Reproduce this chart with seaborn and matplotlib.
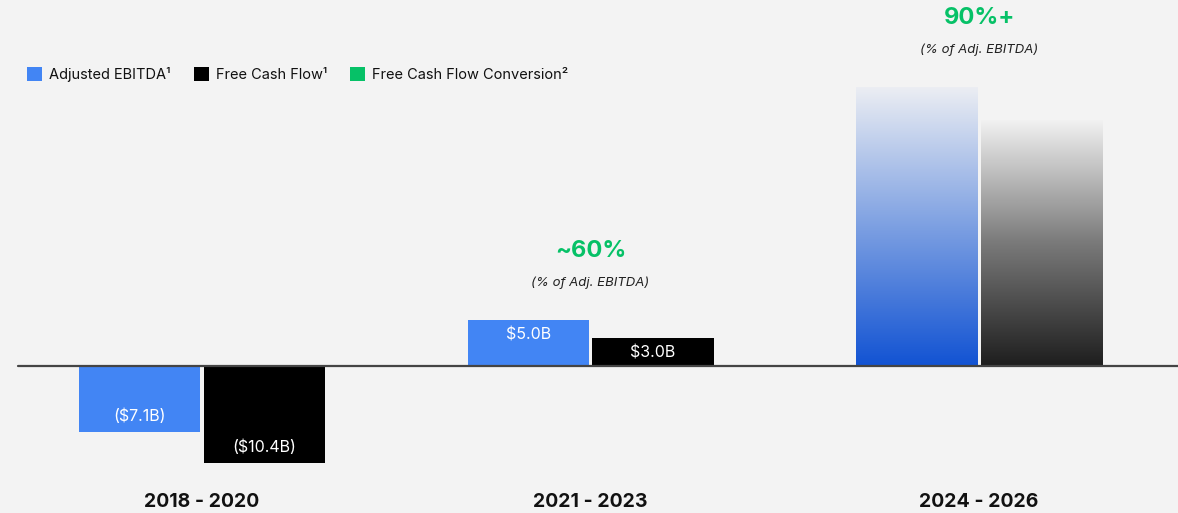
import numpy as np
import pandas as pd
import matplotlib
matplotlib.use("Agg")
import matplotlib.pyplot as plt
from matplotlib.colors import LinearSegmentedColormap
from matplotlib.patches import Patch
from matplotlib.transforms import blended_transform_factory
import seaborn as sns

# ── Data ──────────────────────────────────────
periods = ["2018 - 2020", "2021 - 2023", "2024 - 2026"]
ebitda = [-7.1, 5.0, 30.0]
fcf = [-10.4, 3.0, 26.5]
ebitda_labels = ["($7.1B)", "$5.0B", ""]
fcf_labels = ["($10.4B)", "$3.0B", ""]
conversion = ["", "~60%", "90%+"]
series = ["Adjusted EBITDA¹", "Free Cash Flow¹", "Free Cash Flow Conversion²"]

BG = "#f3f3f3"
BLUE = "#4285f4"
BLACK = "#000000"
GREEN = "#06c167"

df = pd.DataFrame({
    "period": periods * 2,
    "value": ebitda + fcf,
    "series": [series[0]] * 3 + [series[1]] * 3,
})

sns.set_theme(style="white")
plt.rcParams["font.family"] = ["Inter", "DejaVu Sans"]

fig = plt.figure(figsize=(11.78, 5.13), dpi=100, facecolor=BG)
ax = fig.add_axes([0, 0, 1, 1])
ax.set_facecolor(BG)

sns.barplot(data=df, x="period", y="value", hue="series", order=periods,
            hue_order=series[:2], palette=[BLUE, BLACK], width=0.643, gap=0.03,
            saturation=1, ax=ax, legend=False, linewidth=0)

ax.set_xlim(-0.52, 2.512)
ax.set_ylim(-15.8, 39.35)
ax.axis("off")

# zero line
ax.axhline(0, xmin=0.015, xmax=1, color="#444444", lw=1.6, zorder=5)

# ── Bars: labels + gradients for projection ──
blue_grad = LinearSegmentedColormap.from_list("bg", ["#1253d3", "#7da0e2", "#eceef3"])
gray_grad = LinearSegmentedColormap.from_list("gg", ["#1e1e1e", "#7a7a7a", "#f2f2f2"])
grad = np.linspace(0, 1, 256).reshape(-1, 1)

n = len(periods)
patches = ax.patches[: 2 * n]
labels = ebitda_labels + fcf_labels
for i, p in enumerate(patches):
    x0, w = p.get_x(), p.get_width()
    h = p.get_height()
    if i % n == n - 1:  # last period -> gradient bar
        cmap = blue_grad if i < n else gray_grad
        p.set_facecolor("none")
        im = ax.imshow(grad, cmap=cmap, aspect="auto",
                       extent=[x0, x0 + w, 0, h], origin="lower", zorder=2)
        im.set_clip_path(p)
        continue
    off = 16 if h < 0 else -15
    ax.annotate(labels[i], (x0 + w / 2, h), xytext=(0, off), textcoords="offset pixels",
                ha="center", va="center", color="white", fontsize=11.5)

# ── Conversion annotations ───────────────────
for i, c in enumerate(conversion):
    if not c:
        continue
    ax.annotate(c, (i, ebitda[i]), xytext=(0, 69), textcoords="offset pixels",
                ha="center", va="center", color=GREEN, fontsize=17, fontweight="bold")
    ax.annotate("(% of Adj. EBITDA)", (i, ebitda[i]), xytext=(0, 37), textcoords="offset pixels",
                ha="center", va="center", color="#222222", fontsize=9.5, style="italic")

# ── Category labels ──────────────────────────
trans = blended_transform_factory(ax.transData, ax.transAxes)
for i, per in enumerate(periods):
    ax.text(i, 0.022, per, transform=trans, ha="center", va="center",
            fontsize=14, fontweight="bold", color="#111111")

# ── Legend ───────────────────────────────────
handles = [Patch(facecolor=c, edgecolor="none") for c in [BLUE, BLACK, GREEN]]
leg = fig.legend(handles, series, loc="upper left", bbox_to_anchor=(0.012, 0.895),
                 ncol=3, frameon=False, fontsize=10.5, handlelength=1.0, handleheight=1.0,
                 handletextpad=0.5, columnspacing=1.6)
for t in leg.get_texts():
    t.set_color("#111111")

fig.savefig("out.png", dpi=100, facecolor=BG)
